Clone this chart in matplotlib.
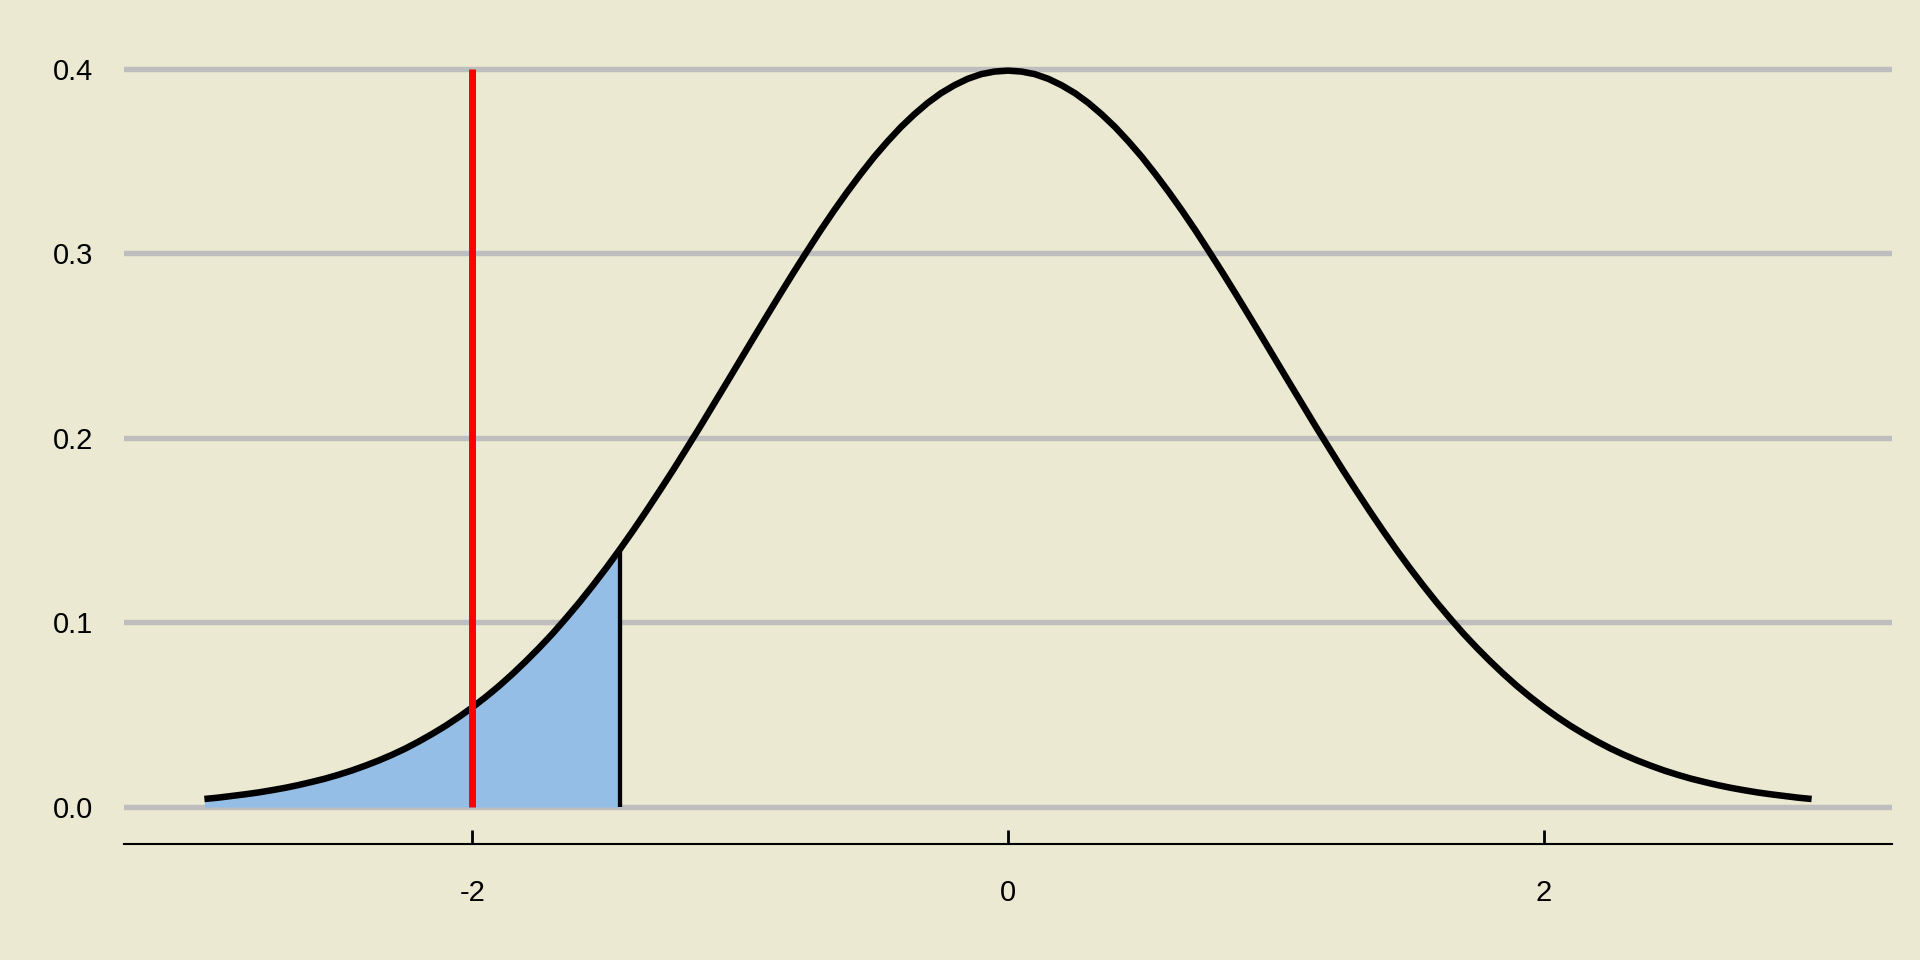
#!/usr/bin/env python3
import matplotlib
matplotlib.use("Agg")
import matplotlib.pyplot as plt

# density curve (step 0.05)
x_vals = [-3.00, -2.95, -2.90, -2.85, -2.80, -2.75, -2.70, -2.65, -2.60, -2.55,
          -2.50, -2.45, -2.40, -2.35, -2.30, -2.25, -2.20, -2.15, -2.10, -2.05,
          -2.00, -1.95, -1.90, -1.85, -1.80, -1.75, -1.70, -1.65, -1.60, -1.55,
          -1.50, -1.45, -1.40, -1.35, -1.30, -1.25, -1.20, -1.15, -1.10, -1.05,
          -1.00, -0.95, -0.90, -0.85, -0.80, -0.75, -0.70, -0.65, -0.60, -0.55,
          -0.50, -0.45, -0.40, -0.35, -0.30, -0.25, -0.20, -0.15, -0.10, -0.05,
          0.00,
          0.05, 0.10, 0.15, 0.20, 0.25, 0.30, 0.35, 0.40, 0.45, 0.50,
          0.55, 0.60, 0.65, 0.70, 0.75, 0.80, 0.85, 0.90, 0.95, 1.00,
          1.05, 1.10, 1.15, 1.20, 1.25, 1.30, 1.35, 1.40, 1.45, 1.50,
          1.55, 1.60, 1.65, 1.70, 1.75, 1.80, 1.85, 1.90, 1.95, 2.00,
          2.05, 2.10, 2.15, 2.20, 2.25, 2.30, 2.35, 2.40, 2.45, 2.50,
          2.55, 2.60, 2.65, 2.70, 2.75, 2.80, 2.85, 2.90, 2.95, 3.00]
density = [0.0044, 0.0051, 0.0060, 0.0069, 0.0079, 0.0091, 0.0104, 0.0119, 0.0136, 0.0154,
           0.0175, 0.0198, 0.0224, 0.0252, 0.0283, 0.0317, 0.0355, 0.0396, 0.0440, 0.0488,
           0.0540, 0.0596, 0.0656, 0.0721, 0.0790, 0.0863, 0.0940, 0.1023, 0.1109, 0.1200,
           0.1295, 0.1394, 0.1497, 0.1604, 0.1714, 0.1826, 0.1942, 0.2059, 0.2179, 0.2299,
           0.2420, 0.2541, 0.2661, 0.2780, 0.2897, 0.3011, 0.3123, 0.3230, 0.3332, 0.3429,
           0.3521, 0.3605, 0.3683, 0.3752, 0.3814, 0.3867, 0.3910, 0.3945, 0.3970, 0.3984,
           0.3989,
           0.3984, 0.3970, 0.3945, 0.3910, 0.3867, 0.3814, 0.3752, 0.3683, 0.3605, 0.3521,
           0.3429, 0.3332, 0.3230, 0.3123, 0.3011, 0.2897, 0.2780, 0.2661, 0.2541, 0.2420,
           0.2299, 0.2179, 0.2059, 0.1942, 0.1826, 0.1714, 0.1604, 0.1497, 0.1394, 0.1295,
           0.1200, 0.1109, 0.1023, 0.0940, 0.0863, 0.0790, 0.0721, 0.0656, 0.0596, 0.0540,
           0.0488, 0.0440, 0.0396, 0.0355, 0.0317, 0.0283, 0.0252, 0.0224, 0.0198, 0.0175,
           0.0154, 0.0136, 0.0119, 0.0104, 0.0091, 0.0079, 0.0069, 0.0060, 0.0051, 0.0044]

# shaded left tail up to the cut-off
cut_x = -1.45
shade_x = [x for x in x_vals if x <= cut_x]
shade_y = [d for x, d in zip(x_vals, density) if x <= cut_x]
cut_y = shade_y[-1]

# red reference line
ref_x = -2.0
ref_top = 0.4

x_ticks = [-2, 0, 2]
x_labels = ["-2", "0", "2"]
y_ticks = [0.0, 0.1, 0.2, 0.3, 0.4]
y_labels = ["0.0", "0.1", "0.2", "0.3", "0.4"]

BG = "#ECE9D2"
plt.rcParams["font.family"] = ["Liberation Sans", "DejaVu Sans"]

fig = plt.figure(figsize=(19.2, 9.6), dpi=100, facecolor=BG)
ax = fig.add_axes([0.0646, 0.1208, 0.9208, 0.8462], facecolor=BG)

ax.set_xlim(-3.3, 3.3)
ax.set_ylim(-0.02, 0.42)

for yv in y_ticks:
    ax.axhline(yv, color="#BEBEBE", lw=3.9, zorder=1)

ax.fill_between(shade_x, 0, shade_y, color="#95BEE7", lw=0, zorder=2)
ax.plot([cut_x, cut_x], [0, cut_y], color="black", lw=3.1, solid_capstyle="butt", zorder=3)
ax.plot(x_vals, density, color="black", lw=4.7, solid_capstyle="butt",
        solid_joinstyle="round", zorder=4)
ax.plot([ref_x, ref_x], [0, ref_top], color="#FF0000", lw=5.0, solid_capstyle="butt", zorder=5)

for side in ["top", "right", "left"]:
    ax.spines[side].set_visible(False)
ax.spines["bottom"].set_linewidth(1.5)
ax.spines["bottom"].set_color("black")

ax.set_xticks(x_ticks)
ax.set_xticklabels(x_labels)
ax.set_yticks(y_ticks)
ax.set_yticklabels(y_labels)
ax.tick_params(axis="x", direction="in", length=10, width=2, pad=25,
               labelsize=21, colors="black")
ax.tick_params(axis="y", length=0, pad=22, labelsize=21, colors="black")

fig.savefig("out.png", dpi=100, facecolor=BG)
